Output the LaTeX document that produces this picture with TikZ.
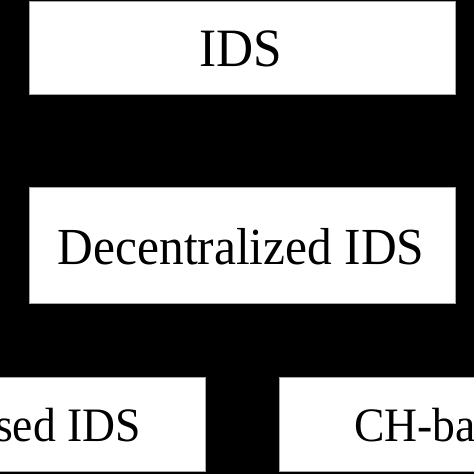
\documentclass[tikz,border=0pt]{standalone}
\usepackage{fontspec}
\setmainfont{Liberation Serif}
\begin{document}
\begin{tikzpicture}[x=1pt,y=1pt,
  box/.style={draw=black!35,line width=0.8pt,fill=white,inner sep=0pt,anchor=south west},
  lbl/.style={inner sep=0pt,font=\fontsize{52}{60}\selectfont},
  lblsmall/.style={inner sep=0pt,font=\fontsize{48}{56}\selectfont}]
\useasboundingbox (0,0) rectangle (474,474);
\clip (0,0) rectangle (474,474);
\fill[black] (0,0) rectangle (474,474);
% boxes (y measured upward: y = 474 - pixel row)
\node[box,minimum width=426pt,minimum height=93pt] (top) at (29,379) {};
\node[box,minimum width=426pt,minimum height=116pt] (mid) at (29,170) {};
\node[box,minimum width=255pt,minimum height=94pt] (left) at (-50,2) {};
\node[box,minimum width=255pt,minimum height=94pt] (right) at (279,2) {};
% texts
\node[lbl,font=\fontsize{54}{60}\selectfont,anchor=base] (tIDS) at (240.5,407) {\scalebox{0.95}[1]{IDS}};
\node[lbl,anchor=base] (tDec) at (241,209) {\scalebox{0.95}[1]{Decentralized IDS}};
\node[lblsmall,anchor=base east] (tL) at (141,32) {\scalebox{0.95}[1]{sed IDS}};
\node[lblsmall,anchor=base west] (tR) at (354,32) {\scalebox{0.95}[1]{CH-ba}};
\end{tikzpicture}
\end{document}
